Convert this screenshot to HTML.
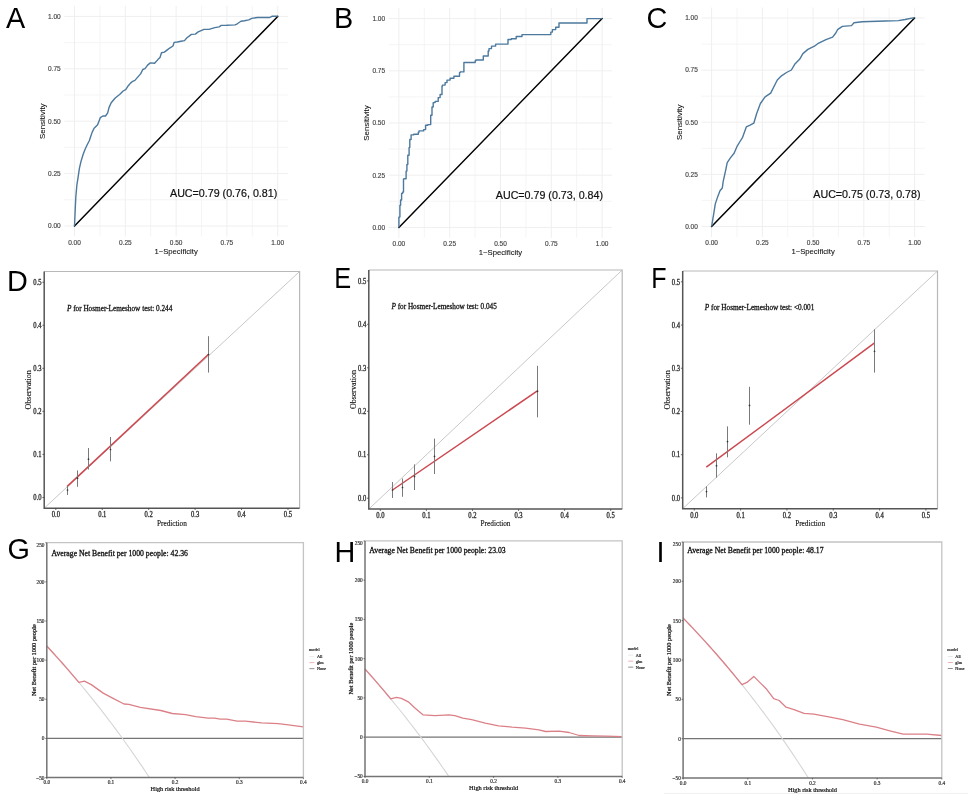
<!DOCTYPE html><html><head><meta charset="utf-8"><style>html,body{margin:0;padding:0;background:#fff;}svg{display:block;will-change:transform;}</style></head><body>
<svg width="972" height="798" viewBox="0 0 972 798">
<rect width="972" height="798" fill="#fff"/>
<line x1="99.90" y1="5.92" x2="99.90" y2="236.48" stroke="#f4f4f4" stroke-width="0.9"/>
<line x1="64.34" y1="199.80" x2="287.86" y2="199.80" stroke="#f4f4f4" stroke-width="0.9"/>
<line x1="150.70" y1="5.92" x2="150.70" y2="236.48" stroke="#f4f4f4" stroke-width="0.9"/>
<line x1="64.34" y1="147.40" x2="287.86" y2="147.40" stroke="#f4f4f4" stroke-width="0.9"/>
<line x1="201.50" y1="5.92" x2="201.50" y2="236.48" stroke="#f4f4f4" stroke-width="0.9"/>
<line x1="64.34" y1="95.00" x2="287.86" y2="95.00" stroke="#f4f4f4" stroke-width="0.9"/>
<line x1="252.30" y1="5.92" x2="252.30" y2="236.48" stroke="#f4f4f4" stroke-width="0.9"/>
<line x1="64.34" y1="42.60" x2="287.86" y2="42.60" stroke="#f4f4f4" stroke-width="0.9"/>
<line x1="74.50" y1="5.92" x2="74.50" y2="236.48" stroke="#efefef" stroke-width="1"/>
<line x1="64.34" y1="226.00" x2="287.86" y2="226.00" stroke="#efefef" stroke-width="1"/>
<line x1="125.30" y1="5.92" x2="125.30" y2="236.48" stroke="#efefef" stroke-width="1"/>
<line x1="64.34" y1="173.60" x2="287.86" y2="173.60" stroke="#efefef" stroke-width="1"/>
<line x1="176.10" y1="5.92" x2="176.10" y2="236.48" stroke="#efefef" stroke-width="1"/>
<line x1="64.34" y1="121.20" x2="287.86" y2="121.20" stroke="#efefef" stroke-width="1"/>
<line x1="226.90" y1="5.92" x2="226.90" y2="236.48" stroke="#efefef" stroke-width="1"/>
<line x1="64.34" y1="68.80" x2="287.86" y2="68.80" stroke="#efefef" stroke-width="1"/>
<line x1="277.70" y1="5.92" x2="277.70" y2="236.48" stroke="#efefef" stroke-width="1"/>
<line x1="64.34" y1="16.40" x2="287.86" y2="16.40" stroke="#efefef" stroke-width="1"/>
<text x="60.70" y="228.30" font-family='"Liberation Sans", sans-serif' font-size="6.5" fill="#444" text-anchor="end" stroke="#444" stroke-width="0.15">0.00</text>
<text x="74.50" y="244.80" font-family='"Liberation Sans", sans-serif' font-size="6.5" fill="#444" text-anchor="middle" stroke="#444" stroke-width="0.15">0.00</text>
<text x="60.70" y="175.90" font-family='"Liberation Sans", sans-serif' font-size="6.5" fill="#444" text-anchor="end" stroke="#444" stroke-width="0.15">0.25</text>
<text x="125.30" y="244.80" font-family='"Liberation Sans", sans-serif' font-size="6.5" fill="#444" text-anchor="middle" stroke="#444" stroke-width="0.15">0.25</text>
<text x="60.70" y="123.50" font-family='"Liberation Sans", sans-serif' font-size="6.5" fill="#444" text-anchor="end" stroke="#444" stroke-width="0.15">0.50</text>
<text x="176.10" y="244.80" font-family='"Liberation Sans", sans-serif' font-size="6.5" fill="#444" text-anchor="middle" stroke="#444" stroke-width="0.15">0.50</text>
<text x="60.70" y="71.10" font-family='"Liberation Sans", sans-serif' font-size="6.5" fill="#444" text-anchor="end" stroke="#444" stroke-width="0.15">0.75</text>
<text x="226.90" y="244.80" font-family='"Liberation Sans", sans-serif' font-size="6.5" fill="#444" text-anchor="middle" stroke="#444" stroke-width="0.15">0.75</text>
<text x="60.70" y="18.70" font-family='"Liberation Sans", sans-serif' font-size="6.5" fill="#444" text-anchor="end" stroke="#444" stroke-width="0.15">1.00</text>
<text x="277.70" y="244.80" font-family='"Liberation Sans", sans-serif' font-size="6.5" fill="#444" text-anchor="middle" stroke="#444" stroke-width="0.15">1.00</text>
<text x="176.10" y="253.50" font-family='"Liberation Sans", sans-serif' font-size="7.7" fill="#111" text-anchor="middle" stroke="#111" stroke-width="0.08">1&#8722;Specificity</text>
<text x="44.90" y="121.20" font-family='"Liberation Sans", sans-serif' font-size="7.9" fill="#111" text-anchor="middle" transform="rotate(-90 44.90 121.20)" stroke="#111" stroke-width="0.08">Sensitivity</text>
<line x1="74.50" y1="226.00" x2="277.70" y2="16.40" stroke="#000" stroke-width="1.5" stroke-linecap="round"/>
<polyline points="74.50,226.00 75.20,209.70 75.80,197.20 76.90,184.80 78.00,177.90 79.40,168.30 81.00,161.40 83.10,154.50 85.20,149.00 87.20,144.80 89.30,140.70 90.70,136.60 92.10,132.40 94.10,128.30 97.60,124.80 100.30,117.70 102.90,116.00 105.50,116.00 107.70,112.90 109.00,107.60 111.20,102.80 115.20,98.00 119.60,94.50 123.10,91.00 125.70,89.60 128.30,85.70 130.50,83.10 132.70,81.30 134.90,80.40 137.50,77.40 140.60,73.90 142.80,69.50 145.00,68.60 147.60,65.10 150.30,62.90 154.60,63.30 157.90,59.60 160.00,57.50 161.50,52.80 164.40,52.10 167.60,49.60 170.10,47.80 173.00,46.00 174.10,42.40 177.30,42.00 180.90,41.30 184.50,40.60 186.70,38.00 191.40,34.40 195.30,34.10 198.20,31.90 204.00,29.40 209.00,29.40 214.80,27.60 219.10,26.90 221.30,25.40 226.50,25.30 235.10,24.90 237.30,23.80 240.90,21.30 244.50,20.80 248.80,19.90 251.70,18.40 257.40,17.50 269.70,17.50 271.90,16.30 277.70,16.30" fill="none" stroke="#4c799d" stroke-width="1.4" stroke-linejoin="round"/>
<text x="170.00" y="196.70" font-family='"Liberation Sans", sans-serif' font-size="10.7" fill="#111" text-anchor="start" stroke="#111" stroke-width="0.2">AUC=0.79 (0.76, 0.81)</text>
<line x1="424.30" y1="8.16" x2="424.30" y2="237.84" stroke="#f4f4f4" stroke-width="0.9"/>
<line x1="388.74" y1="201.30" x2="612.26" y2="201.30" stroke="#f4f4f4" stroke-width="0.9"/>
<line x1="475.10" y1="8.16" x2="475.10" y2="237.84" stroke="#f4f4f4" stroke-width="0.9"/>
<line x1="388.74" y1="149.10" x2="612.26" y2="149.10" stroke="#f4f4f4" stroke-width="0.9"/>
<line x1="525.90" y1="8.16" x2="525.90" y2="237.84" stroke="#f4f4f4" stroke-width="0.9"/>
<line x1="388.74" y1="96.90" x2="612.26" y2="96.90" stroke="#f4f4f4" stroke-width="0.9"/>
<line x1="576.70" y1="8.16" x2="576.70" y2="237.84" stroke="#f4f4f4" stroke-width="0.9"/>
<line x1="388.74" y1="44.70" x2="612.26" y2="44.70" stroke="#f4f4f4" stroke-width="0.9"/>
<line x1="398.90" y1="8.16" x2="398.90" y2="237.84" stroke="#efefef" stroke-width="1"/>
<line x1="388.74" y1="227.40" x2="612.26" y2="227.40" stroke="#efefef" stroke-width="1"/>
<line x1="449.70" y1="8.16" x2="449.70" y2="237.84" stroke="#efefef" stroke-width="1"/>
<line x1="388.74" y1="175.20" x2="612.26" y2="175.20" stroke="#efefef" stroke-width="1"/>
<line x1="500.50" y1="8.16" x2="500.50" y2="237.84" stroke="#efefef" stroke-width="1"/>
<line x1="388.74" y1="123.00" x2="612.26" y2="123.00" stroke="#efefef" stroke-width="1"/>
<line x1="551.30" y1="8.16" x2="551.30" y2="237.84" stroke="#efefef" stroke-width="1"/>
<line x1="388.74" y1="70.80" x2="612.26" y2="70.80" stroke="#efefef" stroke-width="1"/>
<line x1="602.10" y1="8.16" x2="602.10" y2="237.84" stroke="#efefef" stroke-width="1"/>
<line x1="388.74" y1="18.60" x2="612.26" y2="18.60" stroke="#efefef" stroke-width="1"/>
<text x="385.10" y="229.70" font-family='"Liberation Sans", sans-serif' font-size="6.5" fill="#444" text-anchor="end" stroke="#444" stroke-width="0.15">0.00</text>
<text x="398.90" y="246.20" font-family='"Liberation Sans", sans-serif' font-size="6.5" fill="#444" text-anchor="middle" stroke="#444" stroke-width="0.15">0.00</text>
<text x="385.10" y="177.50" font-family='"Liberation Sans", sans-serif' font-size="6.5" fill="#444" text-anchor="end" stroke="#444" stroke-width="0.15">0.25</text>
<text x="449.70" y="246.20" font-family='"Liberation Sans", sans-serif' font-size="6.5" fill="#444" text-anchor="middle" stroke="#444" stroke-width="0.15">0.25</text>
<text x="385.10" y="125.30" font-family='"Liberation Sans", sans-serif' font-size="6.5" fill="#444" text-anchor="end" stroke="#444" stroke-width="0.15">0.50</text>
<text x="500.50" y="246.20" font-family='"Liberation Sans", sans-serif' font-size="6.5" fill="#444" text-anchor="middle" stroke="#444" stroke-width="0.15">0.50</text>
<text x="385.10" y="73.10" font-family='"Liberation Sans", sans-serif' font-size="6.5" fill="#444" text-anchor="end" stroke="#444" stroke-width="0.15">0.75</text>
<text x="551.30" y="246.20" font-family='"Liberation Sans", sans-serif' font-size="6.5" fill="#444" text-anchor="middle" stroke="#444" stroke-width="0.15">0.75</text>
<text x="385.10" y="20.90" font-family='"Liberation Sans", sans-serif' font-size="6.5" fill="#444" text-anchor="end" stroke="#444" stroke-width="0.15">1.00</text>
<text x="602.10" y="246.20" font-family='"Liberation Sans", sans-serif' font-size="6.5" fill="#444" text-anchor="middle" stroke="#444" stroke-width="0.15">1.00</text>
<text x="500.50" y="254.90" font-family='"Liberation Sans", sans-serif' font-size="7.7" fill="#111" text-anchor="middle" stroke="#111" stroke-width="0.08">1&#8722;Specificity</text>
<text x="369.30" y="123.00" font-family='"Liberation Sans", sans-serif' font-size="7.9" fill="#111" text-anchor="middle" transform="rotate(-90 369.30 123.00)" stroke="#111" stroke-width="0.08">Sensitivity</text>
<line x1="398.90" y1="227.40" x2="602.10" y2="18.60" stroke="#000" stroke-width="1.5" stroke-linecap="round"/>
<polyline points="398.90,227.40 398.90,217.10 399.90,217.10 399.90,205.30 400.60,205.30 400.60,200.00 401.60,200.00 401.60,193.40 402.60,193.40 402.60,192.10 403.50,192.10 403.50,178.90 404.50,178.90 404.50,178.70 406.10,178.70 406.10,171.10 406.90,171.10 406.90,164.50 407.80,164.50 407.80,155.30 409.10,155.30 409.10,147.40 409.80,147.40 409.80,139.50 411.10,139.50 411.10,134.90 413.70,134.90 413.70,134.20 418.30,134.20 418.30,132.20 419.00,132.20 419.00,130.90 423.60,130.90 423.60,129.60 425.60,129.60 425.60,125.20 427.80,125.20 427.80,124.60 430.70,124.60 430.70,115.20 432.00,115.20 432.00,107.00 433.20,107.00 433.20,102.60 435.10,102.60 435.10,101.40 438.20,101.40 438.20,97.60 440.10,97.60 440.10,94.50 442.00,94.50 442.00,86.30 442.40,86.30 442.40,85.10 445.10,85.10 445.10,82.60 447.00,82.60 447.00,80.10 450.10,80.10 450.10,78.20 453.90,78.20 453.90,76.30 459.50,76.30 459.50,72.60 460.20,72.60 460.20,71.90 463.90,71.90 463.90,62.50 466.40,62.50 466.40,62.50 475.20,62.50 475.20,60.70 475.80,60.70 475.80,60.00 483.30,60.00 483.30,56.00 483.60,56.00 483.60,56.00 488.20,56.00 488.20,51.00 489.00,51.00 489.00,48.60 491.50,48.60 491.50,46.10 495.60,46.10 495.60,44.10 500.60,44.10 500.60,44.10 508.00,44.10 508.00,39.50 511.30,39.50 511.30,38.70 516.20,38.70 516.20,36.50 517.90,36.50 517.90,36.50 522.00,36.50 522.00,34.60 523.10,34.60 523.10,34.60 550.80,34.60 550.80,32.10 552.40,32.10 552.40,29.60 555.70,29.60 555.70,27.20 559.00,27.20 559.00,23.00 561.50,23.00 561.50,23.00 587.00,23.00 587.00,18.60 590.30,18.60 590.30,18.60 602.10,18.60" fill="none" stroke="#4c799d" stroke-width="1.4" stroke-linejoin="round"/>
<text x="495.80" y="198.80" font-family='"Liberation Sans", sans-serif' font-size="10.7" fill="#111" text-anchor="start" stroke="#111" stroke-width="0.2">AUC=0.79 (0.73, 0.84)</text>
<line x1="736.98" y1="7.57" x2="736.98" y2="236.93" stroke="#f4f4f4" stroke-width="0.9"/>
<line x1="701.45" y1="200.44" x2="924.75" y2="200.44" stroke="#f4f4f4" stroke-width="0.9"/>
<line x1="787.73" y1="7.57" x2="787.73" y2="236.93" stroke="#f4f4f4" stroke-width="0.9"/>
<line x1="701.45" y1="148.31" x2="924.75" y2="148.31" stroke="#f4f4f4" stroke-width="0.9"/>
<line x1="838.48" y1="7.57" x2="838.48" y2="236.93" stroke="#f4f4f4" stroke-width="0.9"/>
<line x1="701.45" y1="96.19" x2="924.75" y2="96.19" stroke="#f4f4f4" stroke-width="0.9"/>
<line x1="889.23" y1="7.57" x2="889.23" y2="236.93" stroke="#f4f4f4" stroke-width="0.9"/>
<line x1="701.45" y1="44.06" x2="924.75" y2="44.06" stroke="#f4f4f4" stroke-width="0.9"/>
<line x1="711.60" y1="7.57" x2="711.60" y2="236.93" stroke="#efefef" stroke-width="1"/>
<line x1="701.45" y1="226.50" x2="924.75" y2="226.50" stroke="#efefef" stroke-width="1"/>
<line x1="762.35" y1="7.57" x2="762.35" y2="236.93" stroke="#efefef" stroke-width="1"/>
<line x1="701.45" y1="174.38" x2="924.75" y2="174.38" stroke="#efefef" stroke-width="1"/>
<line x1="813.10" y1="7.57" x2="813.10" y2="236.93" stroke="#efefef" stroke-width="1"/>
<line x1="701.45" y1="122.25" x2="924.75" y2="122.25" stroke="#efefef" stroke-width="1"/>
<line x1="863.85" y1="7.57" x2="863.85" y2="236.93" stroke="#efefef" stroke-width="1"/>
<line x1="701.45" y1="70.12" x2="924.75" y2="70.12" stroke="#efefef" stroke-width="1"/>
<line x1="914.60" y1="7.57" x2="914.60" y2="236.93" stroke="#efefef" stroke-width="1"/>
<line x1="701.45" y1="18.00" x2="924.75" y2="18.00" stroke="#efefef" stroke-width="1"/>
<text x="697.80" y="228.80" font-family='"Liberation Sans", sans-serif' font-size="6.5" fill="#444" text-anchor="end" stroke="#444" stroke-width="0.15">0.00</text>
<text x="711.60" y="245.30" font-family='"Liberation Sans", sans-serif' font-size="6.5" fill="#444" text-anchor="middle" stroke="#444" stroke-width="0.15">0.00</text>
<text x="697.80" y="176.68" font-family='"Liberation Sans", sans-serif' font-size="6.5" fill="#444" text-anchor="end" stroke="#444" stroke-width="0.15">0.25</text>
<text x="762.35" y="245.30" font-family='"Liberation Sans", sans-serif' font-size="6.5" fill="#444" text-anchor="middle" stroke="#444" stroke-width="0.15">0.25</text>
<text x="697.80" y="124.55" font-family='"Liberation Sans", sans-serif' font-size="6.5" fill="#444" text-anchor="end" stroke="#444" stroke-width="0.15">0.50</text>
<text x="813.10" y="245.30" font-family='"Liberation Sans", sans-serif' font-size="6.5" fill="#444" text-anchor="middle" stroke="#444" stroke-width="0.15">0.50</text>
<text x="697.80" y="72.42" font-family='"Liberation Sans", sans-serif' font-size="6.5" fill="#444" text-anchor="end" stroke="#444" stroke-width="0.15">0.75</text>
<text x="863.85" y="245.30" font-family='"Liberation Sans", sans-serif' font-size="6.5" fill="#444" text-anchor="middle" stroke="#444" stroke-width="0.15">0.75</text>
<text x="697.80" y="20.30" font-family='"Liberation Sans", sans-serif' font-size="6.5" fill="#444" text-anchor="end" stroke="#444" stroke-width="0.15">1.00</text>
<text x="914.60" y="245.30" font-family='"Liberation Sans", sans-serif' font-size="6.5" fill="#444" text-anchor="middle" stroke="#444" stroke-width="0.15">1.00</text>
<text x="813.10" y="254.00" font-family='"Liberation Sans", sans-serif' font-size="7.7" fill="#111" text-anchor="middle" stroke="#111" stroke-width="0.08">1&#8722;Specificity</text>
<text x="682.00" y="122.25" font-family='"Liberation Sans", sans-serif' font-size="7.9" fill="#111" text-anchor="middle" transform="rotate(-90 682.00 122.25)" stroke="#111" stroke-width="0.08">Sensitivity</text>
<line x1="711.60" y1="226.50" x2="914.60" y2="18.00" stroke="#000" stroke-width="1.5" stroke-linecap="round"/>
<polyline points="711.60,226.50 713.50,215.20 715.30,203.90 717.80,196.40 720.00,190.80 722.30,188.00 723.20,181.40 725.70,170.10 727.20,162.60 730.40,157.90 734.10,153.20 736.90,146.70 739.70,142.00 742.60,137.30 746.30,126.90 750.10,125.10 753.80,123.20 756.60,113.80 760.40,103.50 765.10,96.90 770.70,93.10 773.50,87.50 777.30,80.00 781.50,75.80 786.50,72.50 791.40,70.00 794.70,64.30 799.60,59.30 802.90,53.60 807.90,49.40 814.40,46.20 817.70,43.70 826.00,39.60 832.60,37.10 835.80,33.00 837.50,29.70 842.40,26.40 851.50,25.60 854.00,22.80 862.20,21.80 885.20,21.00 898.40,20.60 905.00,19.50 914.60,17.60" fill="none" stroke="#4c799d" stroke-width="1.4" stroke-linejoin="round"/>
<text x="813.30" y="198.00" font-family='"Liberation Sans", sans-serif' font-size="10.7" fill="#111" text-anchor="start" stroke="#111" stroke-width="0.2">AUC=0.75 (0.73, 0.78)</text>
<line x1="44.20" y1="508.20" x2="299.60" y2="271.50" stroke="#c8c8c8" stroke-width="1.0"/>
<polyline points="44.20,271.50 299.60,271.50 299.60,508.20" fill="none" stroke="#b8b8b8" stroke-width="1.2"/>
<line x1="67.00" y1="486.60" x2="208.30" y2="354.50" stroke="#cc4850" stroke-width="1.5"/>
<line x1="67.50" y1="485.90" x2="67.50" y2="495.00" stroke="#7a7a7a" stroke-width="1.05"/>
<circle cx="67.50" cy="490.00" r="0.85" fill="#333"/>
<line x1="77.50" y1="470.40" x2="77.50" y2="486.80" stroke="#7a7a7a" stroke-width="1.05"/>
<circle cx="77.50" cy="478.20" r="0.85" fill="#333"/>
<line x1="88.50" y1="448.00" x2="88.50" y2="469.50" stroke="#7a7a7a" stroke-width="1.05"/>
<circle cx="88.50" cy="459.20" r="0.85" fill="#333"/>
<line x1="110.50" y1="437.00" x2="110.50" y2="461.30" stroke="#7a7a7a" stroke-width="1.05"/>
<circle cx="110.50" cy="449.50" r="0.85" fill="#333"/>
<line x1="208.50" y1="336.20" x2="208.50" y2="372.60" stroke="#7a7a7a" stroke-width="1.05"/>
<circle cx="208.50" cy="354.50" r="0.85" fill="#333"/>
<polyline points="44.20,271.50 44.20,508.20 299.60,508.20" fill="none" stroke="#555" stroke-width="1.5"/>
<line x1="42.40" y1="497.44" x2="44.20" y2="497.44" stroke="#444" stroke-width="0.8"/>
<line x1="55.81" y1="508.20" x2="55.81" y2="510.00" stroke="#444" stroke-width="0.8"/>
<text transform="translate(41.60 500.14) scale(1 1.1)" font-family='"Liberation Serif", serif' font-size="6.6" fill="#333" text-anchor="end" stroke="#333" stroke-width="0.3">0.0</text>
<text transform="translate(55.81 517.20) scale(1 1.1)" font-family='"Liberation Serif", serif' font-size="6.6" fill="#333" text-anchor="middle" stroke="#333" stroke-width="0.3">0.0</text>
<line x1="42.40" y1="454.40" x2="44.20" y2="454.40" stroke="#444" stroke-width="0.8"/>
<line x1="102.25" y1="508.20" x2="102.25" y2="510.00" stroke="#444" stroke-width="0.8"/>
<text transform="translate(41.60 457.10) scale(1 1.1)" font-family='"Liberation Serif", serif' font-size="6.6" fill="#333" text-anchor="end" stroke="#333" stroke-width="0.3">0.1</text>
<text transform="translate(102.25 517.20) scale(1 1.1)" font-family='"Liberation Serif", serif' font-size="6.6" fill="#333" text-anchor="middle" stroke="#333" stroke-width="0.3">0.1</text>
<line x1="42.40" y1="411.37" x2="44.20" y2="411.37" stroke="#444" stroke-width="0.8"/>
<line x1="148.68" y1="508.20" x2="148.68" y2="510.00" stroke="#444" stroke-width="0.8"/>
<text transform="translate(41.60 414.07) scale(1 1.1)" font-family='"Liberation Serif", serif' font-size="6.6" fill="#333" text-anchor="end" stroke="#333" stroke-width="0.3">0.2</text>
<text transform="translate(148.68 517.20) scale(1 1.1)" font-family='"Liberation Serif", serif' font-size="6.6" fill="#333" text-anchor="middle" stroke="#333" stroke-width="0.3">0.2</text>
<line x1="42.40" y1="368.33" x2="44.20" y2="368.33" stroke="#444" stroke-width="0.8"/>
<line x1="195.12" y1="508.20" x2="195.12" y2="510.00" stroke="#444" stroke-width="0.8"/>
<text transform="translate(41.60 371.03) scale(1 1.1)" font-family='"Liberation Serif", serif' font-size="6.6" fill="#333" text-anchor="end" stroke="#333" stroke-width="0.3">0.3</text>
<text transform="translate(195.12 517.20) scale(1 1.1)" font-family='"Liberation Serif", serif' font-size="6.6" fill="#333" text-anchor="middle" stroke="#333" stroke-width="0.3">0.3</text>
<line x1="42.40" y1="325.30" x2="44.20" y2="325.30" stroke="#444" stroke-width="0.8"/>
<line x1="241.55" y1="508.20" x2="241.55" y2="510.00" stroke="#444" stroke-width="0.8"/>
<text transform="translate(41.60 328.00) scale(1 1.1)" font-family='"Liberation Serif", serif' font-size="6.6" fill="#333" text-anchor="end" stroke="#333" stroke-width="0.3">0.4</text>
<text transform="translate(241.55 517.20) scale(1 1.1)" font-family='"Liberation Serif", serif' font-size="6.6" fill="#333" text-anchor="middle" stroke="#333" stroke-width="0.3">0.4</text>
<line x1="42.40" y1="282.26" x2="44.20" y2="282.26" stroke="#444" stroke-width="0.8"/>
<line x1="287.99" y1="508.20" x2="287.99" y2="510.00" stroke="#444" stroke-width="0.8"/>
<text transform="translate(41.60 284.96) scale(1 1.1)" font-family='"Liberation Serif", serif' font-size="6.6" fill="#333" text-anchor="end" stroke="#333" stroke-width="0.3">0.5</text>
<text transform="translate(287.99 517.20) scale(1 1.1)" font-family='"Liberation Serif", serif' font-size="6.6" fill="#333" text-anchor="middle" stroke="#333" stroke-width="0.3">0.5</text>
<text transform="translate(171.90 525.50) scale(1 1.1)" font-family='"Liberation Serif", serif' font-size="7.3" fill="#111" text-anchor="middle" stroke="#111" stroke-width="0.12">Prediction</text>
<text transform="translate(31.00 389.85) scale(1 1.1) rotate(-90)" font-family='"Liberation Serif", serif' font-size="7.3" fill="#111" text-anchor="middle" stroke="#111" stroke-width="0.12">Observation</text>
<text transform="translate(66.90 310.80) scale(1 1.1)" font-family='"Liberation Serif", serif' font-size="7.25" fill="#111" text-anchor="start" stroke="#111" stroke-width="0.25"><tspan font-style="italic">P</tspan> for Hosmer-Lemeshow test: 0.244</text>
<line x1="368.80" y1="509.10" x2="622.20" y2="270.00" stroke="#c8c8c8" stroke-width="1.0"/>
<polyline points="368.80,270.00 622.20,270.00 622.20,509.10" fill="none" stroke="#b8b8b8" stroke-width="1.2"/>
<line x1="392.50" y1="490.00" x2="537.00" y2="391.20" stroke="#cc4850" stroke-width="1.5"/>
<line x1="392.50" y1="482.00" x2="392.50" y2="498.00" stroke="#7a7a7a" stroke-width="1.05"/>
<circle cx="392.50" cy="490.00" r="0.85" fill="#333"/>
<line x1="402.50" y1="478.50" x2="402.50" y2="496.80" stroke="#7a7a7a" stroke-width="1.05"/>
<circle cx="402.50" cy="487.50" r="0.85" fill="#333"/>
<line x1="414.50" y1="464.40" x2="414.50" y2="490.00" stroke="#7a7a7a" stroke-width="1.05"/>
<circle cx="414.50" cy="476.40" r="0.85" fill="#333"/>
<line x1="434.50" y1="438.60" x2="434.50" y2="474.00" stroke="#7a7a7a" stroke-width="1.05"/>
<circle cx="434.50" cy="456.40" r="0.85" fill="#333"/>
<line x1="537.50" y1="365.80" x2="537.50" y2="417.30" stroke="#7a7a7a" stroke-width="1.05"/>
<circle cx="537.50" cy="391.20" r="0.85" fill="#333"/>
<polyline points="368.80,270.00 368.80,509.10 622.20,509.10" fill="none" stroke="#555" stroke-width="1.5"/>
<line x1="367.00" y1="498.23" x2="368.80" y2="498.23" stroke="#444" stroke-width="0.8"/>
<line x1="380.32" y1="509.10" x2="380.32" y2="510.90" stroke="#444" stroke-width="0.8"/>
<text transform="translate(366.20 500.93) scale(1 1.1)" font-family='"Liberation Serif", serif' font-size="6.6" fill="#333" text-anchor="end" stroke="#333" stroke-width="0.3">0.0</text>
<text transform="translate(380.32 518.10) scale(1 1.1)" font-family='"Liberation Serif", serif' font-size="6.6" fill="#333" text-anchor="middle" stroke="#333" stroke-width="0.3">0.0</text>
<line x1="367.00" y1="454.76" x2="368.80" y2="454.76" stroke="#444" stroke-width="0.8"/>
<line x1="426.39" y1="509.10" x2="426.39" y2="510.90" stroke="#444" stroke-width="0.8"/>
<text transform="translate(366.20 457.46) scale(1 1.1)" font-family='"Liberation Serif", serif' font-size="6.6" fill="#333" text-anchor="end" stroke="#333" stroke-width="0.3">0.1</text>
<text transform="translate(426.39 518.10) scale(1 1.1)" font-family='"Liberation Serif", serif' font-size="6.6" fill="#333" text-anchor="middle" stroke="#333" stroke-width="0.3">0.1</text>
<line x1="367.00" y1="411.29" x2="368.80" y2="411.29" stroke="#444" stroke-width="0.8"/>
<line x1="472.46" y1="509.10" x2="472.46" y2="510.90" stroke="#444" stroke-width="0.8"/>
<text transform="translate(366.20 413.99) scale(1 1.1)" font-family='"Liberation Serif", serif' font-size="6.6" fill="#333" text-anchor="end" stroke="#333" stroke-width="0.3">0.2</text>
<text transform="translate(472.46 518.10) scale(1 1.1)" font-family='"Liberation Serif", serif' font-size="6.6" fill="#333" text-anchor="middle" stroke="#333" stroke-width="0.3">0.2</text>
<line x1="367.00" y1="367.81" x2="368.80" y2="367.81" stroke="#444" stroke-width="0.8"/>
<line x1="518.54" y1="509.10" x2="518.54" y2="510.90" stroke="#444" stroke-width="0.8"/>
<text transform="translate(366.20 370.51) scale(1 1.1)" font-family='"Liberation Serif", serif' font-size="6.6" fill="#333" text-anchor="end" stroke="#333" stroke-width="0.3">0.3</text>
<text transform="translate(518.54 518.10) scale(1 1.1)" font-family='"Liberation Serif", serif' font-size="6.6" fill="#333" text-anchor="middle" stroke="#333" stroke-width="0.3">0.3</text>
<line x1="367.00" y1="324.34" x2="368.80" y2="324.34" stroke="#444" stroke-width="0.8"/>
<line x1="564.61" y1="509.10" x2="564.61" y2="510.90" stroke="#444" stroke-width="0.8"/>
<text transform="translate(366.20 327.04) scale(1 1.1)" font-family='"Liberation Serif", serif' font-size="6.6" fill="#333" text-anchor="end" stroke="#333" stroke-width="0.3">0.4</text>
<text transform="translate(564.61 518.10) scale(1 1.1)" font-family='"Liberation Serif", serif' font-size="6.6" fill="#333" text-anchor="middle" stroke="#333" stroke-width="0.3">0.4</text>
<line x1="367.00" y1="280.87" x2="368.80" y2="280.87" stroke="#444" stroke-width="0.8"/>
<line x1="610.68" y1="509.10" x2="610.68" y2="510.90" stroke="#444" stroke-width="0.8"/>
<text transform="translate(366.20 283.57) scale(1 1.1)" font-family='"Liberation Serif", serif' font-size="6.6" fill="#333" text-anchor="end" stroke="#333" stroke-width="0.3">0.5</text>
<text transform="translate(610.68 518.10) scale(1 1.1)" font-family='"Liberation Serif", serif' font-size="6.6" fill="#333" text-anchor="middle" stroke="#333" stroke-width="0.3">0.5</text>
<text transform="translate(495.50 526.40) scale(1 1.1)" font-family='"Liberation Serif", serif' font-size="7.3" fill="#111" text-anchor="middle" stroke="#111" stroke-width="0.12">Prediction</text>
<text transform="translate(355.60 389.55) scale(1 1.1) rotate(-90)" font-family='"Liberation Serif", serif' font-size="7.3" fill="#111" text-anchor="middle" stroke="#111" stroke-width="0.12">Observation</text>
<text transform="translate(391.40 309.20) scale(1 1.1)" font-family='"Liberation Serif", serif' font-size="7.25" fill="#111" text-anchor="start" stroke="#111" stroke-width="0.25"><tspan font-style="italic">P</tspan> for Hosmer-Lemeshow test: 0.045</text>
<line x1="682.70" y1="508.70" x2="937.50" y2="271.00" stroke="#c8c8c8" stroke-width="1.0"/>
<polyline points="682.70,271.00 937.50,271.00 937.50,508.70" fill="none" stroke="#b8b8b8" stroke-width="1.2"/>
<line x1="706.30" y1="467.20" x2="874.60" y2="342.90" stroke="#cc4850" stroke-width="1.5"/>
<line x1="706.50" y1="486.30" x2="706.50" y2="497.40" stroke="#7a7a7a" stroke-width="1.05"/>
<circle cx="706.50" cy="491.60" r="0.85" fill="#333"/>
<line x1="716.50" y1="453.30" x2="716.50" y2="477.70" stroke="#7a7a7a" stroke-width="1.05"/>
<circle cx="716.50" cy="465.70" r="0.85" fill="#333"/>
<line x1="727.50" y1="426.40" x2="727.50" y2="457.30" stroke="#7a7a7a" stroke-width="1.05"/>
<circle cx="727.50" cy="441.60" r="0.85" fill="#333"/>
<line x1="749.50" y1="386.80" x2="749.50" y2="424.70" stroke="#7a7a7a" stroke-width="1.05"/>
<circle cx="749.50" cy="405.40" r="0.85" fill="#333"/>
<line x1="874.50" y1="329.30" x2="874.50" y2="372.60" stroke="#7a7a7a" stroke-width="1.05"/>
<circle cx="874.50" cy="351.30" r="0.85" fill="#333"/>
<polyline points="682.70,271.00 682.70,508.70 937.50,508.70" fill="none" stroke="#555" stroke-width="1.5"/>
<line x1="680.90" y1="497.90" x2="682.70" y2="497.90" stroke="#444" stroke-width="0.8"/>
<line x1="694.28" y1="508.70" x2="694.28" y2="510.50" stroke="#444" stroke-width="0.8"/>
<text transform="translate(680.10 500.60) scale(1 1.1)" font-family='"Liberation Serif", serif' font-size="6.6" fill="#333" text-anchor="end" stroke="#333" stroke-width="0.3">0.0</text>
<text transform="translate(694.28 517.70) scale(1 1.1)" font-family='"Liberation Serif", serif' font-size="6.6" fill="#333" text-anchor="middle" stroke="#333" stroke-width="0.3">0.0</text>
<line x1="680.90" y1="454.68" x2="682.70" y2="454.68" stroke="#444" stroke-width="0.8"/>
<line x1="740.61" y1="508.70" x2="740.61" y2="510.50" stroke="#444" stroke-width="0.8"/>
<text transform="translate(680.10 457.38) scale(1 1.1)" font-family='"Liberation Serif", serif' font-size="6.6" fill="#333" text-anchor="end" stroke="#333" stroke-width="0.3">0.1</text>
<text transform="translate(740.61 517.70) scale(1 1.1)" font-family='"Liberation Serif", serif' font-size="6.6" fill="#333" text-anchor="middle" stroke="#333" stroke-width="0.3">0.1</text>
<line x1="680.90" y1="411.46" x2="682.70" y2="411.46" stroke="#444" stroke-width="0.8"/>
<line x1="786.94" y1="508.70" x2="786.94" y2="510.50" stroke="#444" stroke-width="0.8"/>
<text transform="translate(680.10 414.16) scale(1 1.1)" font-family='"Liberation Serif", serif' font-size="6.6" fill="#333" text-anchor="end" stroke="#333" stroke-width="0.3">0.2</text>
<text transform="translate(786.94 517.70) scale(1 1.1)" font-family='"Liberation Serif", serif' font-size="6.6" fill="#333" text-anchor="middle" stroke="#333" stroke-width="0.3">0.2</text>
<line x1="680.90" y1="368.24" x2="682.70" y2="368.24" stroke="#444" stroke-width="0.8"/>
<line x1="833.26" y1="508.70" x2="833.26" y2="510.50" stroke="#444" stroke-width="0.8"/>
<text transform="translate(680.10 370.94) scale(1 1.1)" font-family='"Liberation Serif", serif' font-size="6.6" fill="#333" text-anchor="end" stroke="#333" stroke-width="0.3">0.3</text>
<text transform="translate(833.26 517.70) scale(1 1.1)" font-family='"Liberation Serif", serif' font-size="6.6" fill="#333" text-anchor="middle" stroke="#333" stroke-width="0.3">0.3</text>
<line x1="680.90" y1="325.02" x2="682.70" y2="325.02" stroke="#444" stroke-width="0.8"/>
<line x1="879.59" y1="508.70" x2="879.59" y2="510.50" stroke="#444" stroke-width="0.8"/>
<text transform="translate(680.10 327.72) scale(1 1.1)" font-family='"Liberation Serif", serif' font-size="6.6" fill="#333" text-anchor="end" stroke="#333" stroke-width="0.3">0.4</text>
<text transform="translate(879.59 517.70) scale(1 1.1)" font-family='"Liberation Serif", serif' font-size="6.6" fill="#333" text-anchor="middle" stroke="#333" stroke-width="0.3">0.4</text>
<line x1="680.90" y1="281.80" x2="682.70" y2="281.80" stroke="#444" stroke-width="0.8"/>
<line x1="925.92" y1="508.70" x2="925.92" y2="510.50" stroke="#444" stroke-width="0.8"/>
<text transform="translate(680.10 284.50) scale(1 1.1)" font-family='"Liberation Serif", serif' font-size="6.6" fill="#333" text-anchor="end" stroke="#333" stroke-width="0.3">0.5</text>
<text transform="translate(925.92 517.70) scale(1 1.1)" font-family='"Liberation Serif", serif' font-size="6.6" fill="#333" text-anchor="middle" stroke="#333" stroke-width="0.3">0.5</text>
<text transform="translate(810.10 526.00) scale(1 1.1)" font-family='"Liberation Serif", serif' font-size="7.3" fill="#111" text-anchor="middle" stroke="#111" stroke-width="0.12">Prediction</text>
<text transform="translate(669.50 389.85) scale(1 1.1) rotate(-90)" font-family='"Liberation Serif", serif' font-size="7.3" fill="#111" text-anchor="middle" stroke="#111" stroke-width="0.12">Observation</text>
<text transform="translate(704.80 309.90) scale(1 1.1)" font-family='"Liberation Serif", serif' font-size="7.25" fill="#111" text-anchor="start" stroke="#111" stroke-width="0.25"><tspan font-style="italic">P</tspan> for Hosmer-Lemeshow test: &lt;0.001</text>
<line x1="46.80" y1="738.45" x2="303.40" y2="738.45" stroke="#747474" stroke-width="1.3"/>
<polyline points="46.80,646.06 50.01,649.53 53.21,653.03 56.42,656.57 59.63,660.15 62.84,663.76 66.04,667.41 69.25,671.10 72.46,674.83 75.67,678.60 78.87,682.40 82.08,686.25 85.29,690.14 88.50,694.07 91.70,698.04 94.91,702.05 98.12,706.11 101.33,710.21 104.53,714.36 107.74,718.55 110.95,722.79 114.16,727.08 117.37,731.41 120.57,735.80 123.78,740.23 126.99,744.71 130.19,749.25 133.40,753.84 136.61,758.48 139.82,763.18 143.03,767.93 146.23,772.74 149.44,777.60" fill="none" stroke="#d6d6d6" stroke-width="1.1"/>
<polyline points="46.80,646.06 50.01,649.53 53.21,653.03 56.42,656.57 59.63,660.15 62.84,663.76 66.04,667.41 69.25,671.10 72.46,674.83 75.67,678.60 78.87,682.40 78.88,682.40 84.40,681.20 91.30,684.60 103.20,693.10 113.10,698.40 124.00,704.00 128.90,704.40 140.30,707.40 160.90,710.50 172.20,713.50 185.60,714.60 195.80,716.60 208.20,718.10 214.40,718.10 220.50,719.10 226.70,719.10 237.00,721.20 245.20,721.20 261.70,722.80 278.10,723.60 288.40,724.90 303.40,726.90" fill="none" stroke="#dc8088" stroke-width="1.3" stroke-linejoin="round"/>
<polyline points="46.80,542.70 303.40,542.70 303.40,777.60" fill="none" stroke="#c4c4c4" stroke-width="1.3"/>
<polyline points="46.80,542.70 46.80,777.60 303.40,777.60" fill="none" stroke="#747474" stroke-width="1.5"/>
<line x1="45.30" y1="777.60" x2="46.80" y2="777.60" stroke="#444" stroke-width="0.7"/>
<text x="44.50" y="779.50" font-family='"Liberation Serif", serif' font-size="5.3" fill="#333" text-anchor="end" stroke="#333" stroke-width="0.2">&#8722;50</text>
<line x1="45.30" y1="738.45" x2="46.80" y2="738.45" stroke="#444" stroke-width="0.7"/>
<text x="44.50" y="740.35" font-family='"Liberation Serif", serif' font-size="5.3" fill="#333" text-anchor="end" stroke="#333" stroke-width="0.2">0</text>
<line x1="45.30" y1="699.30" x2="46.80" y2="699.30" stroke="#444" stroke-width="0.7"/>
<text x="44.50" y="701.20" font-family='"Liberation Serif", serif' font-size="5.3" fill="#333" text-anchor="end" stroke="#333" stroke-width="0.2">50</text>
<line x1="45.30" y1="660.15" x2="46.80" y2="660.15" stroke="#444" stroke-width="0.7"/>
<text x="44.50" y="662.05" font-family='"Liberation Serif", serif' font-size="5.3" fill="#333" text-anchor="end" stroke="#333" stroke-width="0.2">100</text>
<line x1="45.30" y1="621.00" x2="46.80" y2="621.00" stroke="#444" stroke-width="0.7"/>
<text x="44.50" y="622.90" font-family='"Liberation Serif", serif' font-size="5.3" fill="#333" text-anchor="end" stroke="#333" stroke-width="0.2">150</text>
<line x1="45.30" y1="581.85" x2="46.80" y2="581.85" stroke="#444" stroke-width="0.7"/>
<text x="44.50" y="583.75" font-family='"Liberation Serif", serif' font-size="5.3" fill="#333" text-anchor="end" stroke="#333" stroke-width="0.2">200</text>
<line x1="45.30" y1="542.70" x2="46.80" y2="542.70" stroke="#444" stroke-width="0.7"/>
<text x="44.50" y="546.90" font-family='"Liberation Serif", serif' font-size="5.3" fill="#333" text-anchor="end" stroke="#333" stroke-width="0.2">250</text>
<line x1="46.80" y1="777.60" x2="46.80" y2="779.10" stroke="#444" stroke-width="0.7"/>
<text x="46.80" y="784.20" font-family='"Liberation Serif", serif' font-size="5.3" fill="#333" text-anchor="middle" stroke="#333" stroke-width="0.2">0.0</text>
<line x1="110.95" y1="777.60" x2="110.95" y2="779.10" stroke="#444" stroke-width="0.7"/>
<text x="110.95" y="784.20" font-family='"Liberation Serif", serif' font-size="5.3" fill="#333" text-anchor="middle" stroke="#333" stroke-width="0.2">0.1</text>
<line x1="175.10" y1="777.60" x2="175.10" y2="779.10" stroke="#444" stroke-width="0.7"/>
<text x="175.10" y="784.20" font-family='"Liberation Serif", serif' font-size="5.3" fill="#333" text-anchor="middle" stroke="#333" stroke-width="0.2">0.2</text>
<line x1="239.25" y1="777.60" x2="239.25" y2="779.10" stroke="#444" stroke-width="0.7"/>
<text x="239.25" y="784.20" font-family='"Liberation Serif", serif' font-size="5.3" fill="#333" text-anchor="middle" stroke="#333" stroke-width="0.2">0.3</text>
<line x1="303.40" y1="777.60" x2="303.40" y2="779.10" stroke="#444" stroke-width="0.7"/>
<text x="303.40" y="784.20" font-family='"Liberation Serif", serif' font-size="5.3" fill="#333" text-anchor="middle" stroke="#333" stroke-width="0.2">0.4</text>
<text x="175.10" y="791.30" font-family='"Liberation Serif", serif' font-size="6.35" fill="#111" text-anchor="middle" stroke="#111" stroke-width="0.2">High risk threshold</text>
<text x="35.70" y="660.15" font-family='"Liberation Serif", serif' font-size="6.35" fill="#111" text-anchor="middle" transform="rotate(-90 35.70 660.15)" stroke="#111" stroke-width="0.2">Net Benefit per 1000 people</text>
<text x="51.50" y="555.70" font-family='"Liberation Serif", serif' font-size="7.72" fill="#111" text-anchor="start" stroke="#111" stroke-width="0.3">Average Net Benefit per 1000 people: 42.36</text>
<text x="308.90" y="651.15" font-family='"Liberation Serif", serif' font-size="4.3" fill="#111" text-anchor="start" stroke="#111" stroke-width="0.15">model</text>
<line x1="309.40" y1="656.65" x2="314.40" y2="656.65" stroke="#d6d6d6" stroke-width="0.6"/>
<text x="316.90" y="658.15" font-family='"Liberation Serif", serif' font-size="4.3" fill="#111" text-anchor="start" stroke="#111" stroke-width="0.15">All</text>
<line x1="309.40" y1="662.65" x2="314.40" y2="662.65" stroke="#dc8088" stroke-width="0.6"/>
<text x="316.90" y="664.15" font-family='"Liberation Serif", serif' font-size="4.3" fill="#111" text-anchor="start" stroke="#111" stroke-width="0.15">glm</text>
<line x1="309.40" y1="668.65" x2="314.40" y2="668.65" stroke="#444" stroke-width="0.6"/>
<text x="316.90" y="670.15" font-family='"Liberation Serif", serif' font-size="4.3" fill="#111" text-anchor="start" stroke="#111" stroke-width="0.15">None</text>
<line x1="365.00" y1="737.15" x2="622.20" y2="737.15" stroke="#747474" stroke-width="1.3"/>
<polyline points="365.00,669.01 368.21,672.61 371.43,676.25 374.64,679.93 377.86,683.64 381.07,687.39 384.29,691.18 387.50,695.01 390.72,698.88 393.94,702.79 397.15,706.74 400.37,710.73 403.58,714.77 406.80,718.85 410.01,722.97 413.23,727.14 416.44,731.35 419.66,735.61 422.87,739.91 426.09,744.26 429.30,748.66 432.52,753.11 435.73,757.61 438.95,762.16 442.16,766.77 445.38,771.42 448.59,776.13 448.77,776.40" fill="none" stroke="#d6d6d6" stroke-width="1.1"/>
<polyline points="365.00,669.01 368.21,672.61 371.43,676.25 374.64,679.93 377.86,683.64 381.07,687.39 384.29,691.18 387.50,695.01 390.72,698.88 396.40,697.40 401.40,698.40 408.30,701.80 415.20,708.30 423.20,714.90 435.00,715.60 448.90,714.90 454.90,715.60 462.80,718.20 471.70,719.70 485.20,723.10 498.60,725.80 512.00,727.10 525.50,728.10 538.90,729.80 545.60,731.50 559.10,731.10 569.10,732.50 579.20,735.50 592.60,735.80 606.10,736.20 622.20,736.60" fill="none" stroke="#dc8088" stroke-width="1.3" stroke-linejoin="round"/>
<polyline points="365.00,540.90 622.20,540.90 622.20,776.40" fill="none" stroke="#c4c4c4" stroke-width="1.3"/>
<polyline points="365.00,540.90 365.00,776.40 622.20,776.40" fill="none" stroke="#747474" stroke-width="1.5"/>
<line x1="363.50" y1="776.40" x2="365.00" y2="776.40" stroke="#444" stroke-width="0.7"/>
<text x="362.70" y="778.30" font-family='"Liberation Serif", serif' font-size="5.3" fill="#333" text-anchor="end" stroke="#333" stroke-width="0.2">&#8722;50</text>
<line x1="363.50" y1="737.15" x2="365.00" y2="737.15" stroke="#444" stroke-width="0.7"/>
<text x="362.70" y="739.05" font-family='"Liberation Serif", serif' font-size="5.3" fill="#333" text-anchor="end" stroke="#333" stroke-width="0.2">0</text>
<line x1="363.50" y1="697.90" x2="365.00" y2="697.90" stroke="#444" stroke-width="0.7"/>
<text x="362.70" y="699.80" font-family='"Liberation Serif", serif' font-size="5.3" fill="#333" text-anchor="end" stroke="#333" stroke-width="0.2">50</text>
<line x1="363.50" y1="658.65" x2="365.00" y2="658.65" stroke="#444" stroke-width="0.7"/>
<text x="362.70" y="660.55" font-family='"Liberation Serif", serif' font-size="5.3" fill="#333" text-anchor="end" stroke="#333" stroke-width="0.2">100</text>
<line x1="363.50" y1="619.40" x2="365.00" y2="619.40" stroke="#444" stroke-width="0.7"/>
<text x="362.70" y="621.30" font-family='"Liberation Serif", serif' font-size="5.3" fill="#333" text-anchor="end" stroke="#333" stroke-width="0.2">150</text>
<line x1="363.50" y1="580.15" x2="365.00" y2="580.15" stroke="#444" stroke-width="0.7"/>
<text x="362.70" y="582.05" font-family='"Liberation Serif", serif' font-size="5.3" fill="#333" text-anchor="end" stroke="#333" stroke-width="0.2">200</text>
<line x1="363.50" y1="540.90" x2="365.00" y2="540.90" stroke="#444" stroke-width="0.7"/>
<text x="362.70" y="545.10" font-family='"Liberation Serif", serif' font-size="5.3" fill="#333" text-anchor="end" stroke="#333" stroke-width="0.2">250</text>
<line x1="365.00" y1="776.40" x2="365.00" y2="777.90" stroke="#444" stroke-width="0.7"/>
<text x="365.00" y="783.00" font-family='"Liberation Serif", serif' font-size="5.3" fill="#333" text-anchor="middle" stroke="#333" stroke-width="0.2">0.0</text>
<line x1="429.30" y1="776.40" x2="429.30" y2="777.90" stroke="#444" stroke-width="0.7"/>
<text x="429.30" y="783.00" font-family='"Liberation Serif", serif' font-size="5.3" fill="#333" text-anchor="middle" stroke="#333" stroke-width="0.2">0.1</text>
<line x1="493.60" y1="776.40" x2="493.60" y2="777.90" stroke="#444" stroke-width="0.7"/>
<text x="493.60" y="783.00" font-family='"Liberation Serif", serif' font-size="5.3" fill="#333" text-anchor="middle" stroke="#333" stroke-width="0.2">0.2</text>
<line x1="557.90" y1="776.40" x2="557.90" y2="777.90" stroke="#444" stroke-width="0.7"/>
<text x="557.90" y="783.00" font-family='"Liberation Serif", serif' font-size="5.3" fill="#333" text-anchor="middle" stroke="#333" stroke-width="0.2">0.3</text>
<line x1="622.20" y1="776.40" x2="622.20" y2="777.90" stroke="#444" stroke-width="0.7"/>
<text x="622.20" y="783.00" font-family='"Liberation Serif", serif' font-size="5.3" fill="#333" text-anchor="middle" stroke="#333" stroke-width="0.2">0.4</text>
<text x="493.60" y="790.10" font-family='"Liberation Serif", serif' font-size="6.35" fill="#111" text-anchor="middle" stroke="#111" stroke-width="0.2">High risk threshold</text>
<text x="352.90" y="658.65" font-family='"Liberation Serif", serif' font-size="6.35" fill="#111" text-anchor="middle" transform="rotate(-90 352.90 658.65)" stroke="#111" stroke-width="0.2">Net Benefit per 1000 people</text>
<text x="369.30" y="552.80" font-family='"Liberation Serif", serif' font-size="7.72" fill="#111" text-anchor="start" stroke="#111" stroke-width="0.3">Average Net Benefit per 1000 people: 23.03</text>
<text x="627.70" y="649.65" font-family='"Liberation Serif", serif' font-size="4.3" fill="#111" text-anchor="start" stroke="#111" stroke-width="0.15">model</text>
<line x1="628.20" y1="655.15" x2="633.20" y2="655.15" stroke="#d6d6d6" stroke-width="0.6"/>
<text x="635.70" y="656.65" font-family='"Liberation Serif", serif' font-size="4.3" fill="#111" text-anchor="start" stroke="#111" stroke-width="0.15">All</text>
<line x1="628.20" y1="661.15" x2="633.20" y2="661.15" stroke="#dc8088" stroke-width="0.6"/>
<text x="635.70" y="662.65" font-family='"Liberation Serif", serif' font-size="4.3" fill="#111" text-anchor="start" stroke="#111" stroke-width="0.15">glm</text>
<line x1="628.20" y1="667.15" x2="633.20" y2="667.15" stroke="#444" stroke-width="0.6"/>
<text x="635.70" y="668.65" font-family='"Liberation Serif", serif' font-size="4.3" fill="#111" text-anchor="start" stroke="#111" stroke-width="0.15">None</text>
<line x1="683.10" y1="738.67" x2="941.80" y2="738.67" stroke="#747474" stroke-width="1.3"/>
<polyline points="683.10,617.99 686.33,621.34 689.57,624.72 692.80,628.13 696.03,631.58 699.27,635.07 702.50,638.59 705.74,642.15 708.97,645.74 712.20,649.37 715.44,653.04 718.67,656.75 721.90,660.50 725.14,664.29 728.37,668.12 731.61,671.99 734.84,675.90 738.07,679.86 741.31,683.86 744.54,687.90 747.77,691.99 751.01,696.13 754.24,700.31 757.48,704.53 760.71,708.81 763.94,713.13 767.18,717.51 770.41,721.93 773.64,726.41 776.88,730.94 780.11,735.52 783.35,740.16 786.58,744.85 789.81,749.60 793.05,754.40 796.28,759.26 799.51,764.19 802.75,769.17 805.98,774.21 808.38,778.00" fill="none" stroke="#d6d6d6" stroke-width="1.1"/>
<polyline points="683.10,617.99 686.33,621.34 689.57,624.72 692.80,628.13 696.03,631.58 699.27,635.07 702.50,638.59 705.74,642.15 708.97,645.74 712.20,649.37 715.44,653.04 718.67,656.75 721.90,660.50 725.14,664.29 728.37,668.12 731.61,671.99 734.84,675.90 738.07,679.86 741.31,683.86 741.95,684.66 746.90,682.40 753.80,676.40 760.50,683.10 766.70,689.30 773.70,698.70 779.20,700.50 786.10,707.20 794.00,709.60 804.00,713.40 813.90,714.10 830.00,717.10 842.80,719.70 859.50,724.10 876.30,727.10 889.80,730.80 903.20,734.20 916.60,734.20 926.70,734.20 941.80,735.50" fill="none" stroke="#dc8088" stroke-width="1.3" stroke-linejoin="round"/>
<polyline points="683.10,542.00 941.80,542.00 941.80,778.00" fill="none" stroke="#c4c4c4" stroke-width="1.3"/>
<polyline points="683.10,542.00 683.10,778.00 941.80,778.00" fill="none" stroke="#747474" stroke-width="1.5"/>
<line x1="681.60" y1="778.00" x2="683.10" y2="778.00" stroke="#444" stroke-width="0.7"/>
<text x="680.80" y="779.90" font-family='"Liberation Serif", serif' font-size="5.3" fill="#333" text-anchor="end" stroke="#333" stroke-width="0.2">&#8722;50</text>
<line x1="681.60" y1="738.67" x2="683.10" y2="738.67" stroke="#444" stroke-width="0.7"/>
<text x="680.80" y="740.57" font-family='"Liberation Serif", serif' font-size="5.3" fill="#333" text-anchor="end" stroke="#333" stroke-width="0.2">0</text>
<line x1="681.60" y1="699.33" x2="683.10" y2="699.33" stroke="#444" stroke-width="0.7"/>
<text x="680.80" y="701.23" font-family='"Liberation Serif", serif' font-size="5.3" fill="#333" text-anchor="end" stroke="#333" stroke-width="0.2">50</text>
<line x1="681.60" y1="660.00" x2="683.10" y2="660.00" stroke="#444" stroke-width="0.7"/>
<text x="680.80" y="661.90" font-family='"Liberation Serif", serif' font-size="5.3" fill="#333" text-anchor="end" stroke="#333" stroke-width="0.2">100</text>
<line x1="681.60" y1="620.67" x2="683.10" y2="620.67" stroke="#444" stroke-width="0.7"/>
<text x="680.80" y="622.57" font-family='"Liberation Serif", serif' font-size="5.3" fill="#333" text-anchor="end" stroke="#333" stroke-width="0.2">150</text>
<line x1="681.60" y1="581.33" x2="683.10" y2="581.33" stroke="#444" stroke-width="0.7"/>
<text x="680.80" y="583.23" font-family='"Liberation Serif", serif' font-size="5.3" fill="#333" text-anchor="end" stroke="#333" stroke-width="0.2">200</text>
<line x1="681.60" y1="542.00" x2="683.10" y2="542.00" stroke="#444" stroke-width="0.7"/>
<text x="680.80" y="546.20" font-family='"Liberation Serif", serif' font-size="5.3" fill="#333" text-anchor="end" stroke="#333" stroke-width="0.2">250</text>
<line x1="683.10" y1="778.00" x2="683.10" y2="779.50" stroke="#444" stroke-width="0.7"/>
<text x="683.10" y="784.60" font-family='"Liberation Serif", serif' font-size="5.3" fill="#333" text-anchor="middle" stroke="#333" stroke-width="0.2">0.0</text>
<line x1="747.77" y1="778.00" x2="747.77" y2="779.50" stroke="#444" stroke-width="0.7"/>
<text x="747.77" y="784.60" font-family='"Liberation Serif", serif' font-size="5.3" fill="#333" text-anchor="middle" stroke="#333" stroke-width="0.2">0.1</text>
<line x1="812.45" y1="778.00" x2="812.45" y2="779.50" stroke="#444" stroke-width="0.7"/>
<text x="812.45" y="784.60" font-family='"Liberation Serif", serif' font-size="5.3" fill="#333" text-anchor="middle" stroke="#333" stroke-width="0.2">0.2</text>
<line x1="877.12" y1="778.00" x2="877.12" y2="779.50" stroke="#444" stroke-width="0.7"/>
<text x="877.12" y="784.60" font-family='"Liberation Serif", serif' font-size="5.3" fill="#333" text-anchor="middle" stroke="#333" stroke-width="0.2">0.3</text>
<line x1="941.80" y1="778.00" x2="941.80" y2="779.50" stroke="#444" stroke-width="0.7"/>
<text x="941.80" y="784.60" font-family='"Liberation Serif", serif' font-size="5.3" fill="#333" text-anchor="middle" stroke="#333" stroke-width="0.2">0.4</text>
<text x="812.45" y="791.70" font-family='"Liberation Serif", serif' font-size="6.35" fill="#111" text-anchor="middle" stroke="#111" stroke-width="0.2">High risk threshold</text>
<text x="671.00" y="660.00" font-family='"Liberation Serif", serif' font-size="6.35" fill="#111" text-anchor="middle" transform="rotate(-90 671.00 660.00)" stroke="#111" stroke-width="0.2">Net Benefit per 1000 people</text>
<text x="687.20" y="553.20" font-family='"Liberation Serif", serif' font-size="7.72" fill="#111" text-anchor="start" stroke="#111" stroke-width="0.3">Average Net Benefit per 1000 people: 48.17</text>
<text x="947.30" y="651.00" font-family='"Liberation Serif", serif' font-size="4.3" fill="#111" text-anchor="start" stroke="#111" stroke-width="0.15">model</text>
<line x1="947.80" y1="656.50" x2="952.80" y2="656.50" stroke="#d6d6d6" stroke-width="0.6"/>
<text x="955.30" y="658.00" font-family='"Liberation Serif", serif' font-size="4.3" fill="#111" text-anchor="start" stroke="#111" stroke-width="0.15">All</text>
<line x1="947.80" y1="662.50" x2="952.80" y2="662.50" stroke="#dc8088" stroke-width="0.6"/>
<text x="955.30" y="664.00" font-family='"Liberation Serif", serif' font-size="4.3" fill="#111" text-anchor="start" stroke="#111" stroke-width="0.15">glm</text>
<line x1="947.80" y1="668.50" x2="952.80" y2="668.50" stroke="#444" stroke-width="0.6"/>
<text x="955.30" y="670.00" font-family='"Liberation Serif", serif' font-size="4.3" fill="#111" text-anchor="start" stroke="#111" stroke-width="0.15">None</text>
<text x="6.00" y="27.80" font-family='"Liberation Sans", sans-serif' font-size="28.8" fill="#000">A</text>
<text x="334.00" y="27.80" font-family='"Liberation Sans", sans-serif' font-size="28.8" fill="#000">B</text>
<text x="646.60" y="27.80" font-family='"Liberation Sans", sans-serif' font-size="28.8" fill="#000">C</text>
<text x="7.00" y="290.60" font-family='"Liberation Sans", sans-serif' font-size="28.8" fill="#000">D</text>
<text transform="translate(334.30 287.60) scale(0.88 1)" font-family='"Liberation Sans", sans-serif' font-size="28.8" fill="#000">E</text>
<text transform="translate(651.20 287.60) scale(0.87 1)" font-family='"Liberation Sans", sans-serif' font-size="28.8" fill="#000">F</text>
<text x="7.60" y="559.30" font-family='"Liberation Sans", sans-serif' font-size="28.8" fill="#000">G</text>
<text x="334.60" y="562.30" font-family='"Liberation Sans", sans-serif' font-size="28.8" fill="#000">H</text>
<text x="656.60" y="561.90" font-family='"Liberation Sans", sans-serif' font-size="28.8" fill="#000">I</text>
<line x1="664" y1="793.4" x2="968" y2="793.4" stroke="#f0f0f0" stroke-width="1"/>
</svg></body></html>
